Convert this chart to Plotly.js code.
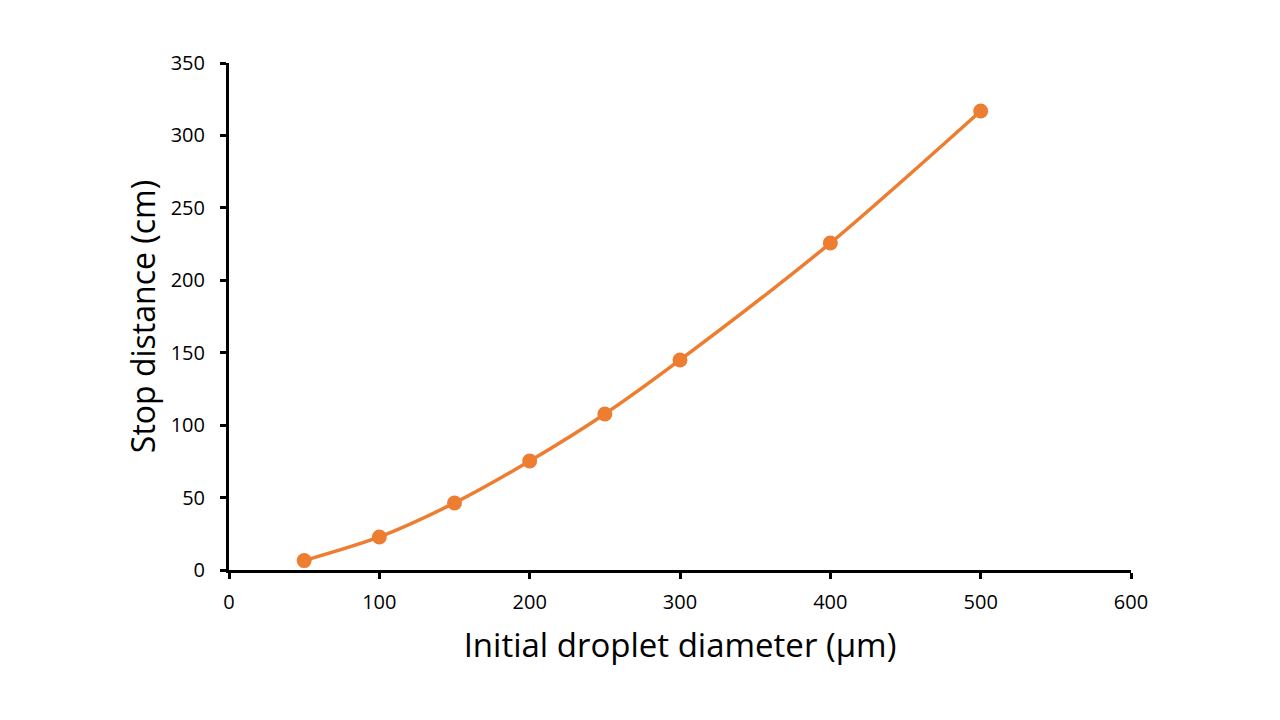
<!DOCTYPE html>
<html>
<head>
<meta charset="utf-8">
<script src="https://cdn.plot.ly/plotly-3.0.1.min.js"></script>
<style>
    html, body { margin: 0; padding: 0; background: #fff; }
    #chart { width: 1280px; height: 720px; }
</style>
</head>
<body>
<div id="chart"></div>
<script>
// droplet diameter (um) vs stop distance (cm)
const diameters = [50, 100, 150, 200, 250, 300, 400, 500];
const stopDistances = [6.5, 22.8, 46.3, 75.2, 107.7, 145, 225.7, 316.9];

const xTicks = [0, 100, 200, 300, 400, 500, 600];
const yTicks = [0, 50, 100, 150, 200, 250, 300, 350];

const orange = '#ED7D31';
const fontFamily = '"Open Sans", "DejaVu Sans", sans-serif';

let data = [{
    x: diameters,
    y: stopDistances,
    type: 'scatter',
    mode: 'lines+markers',
    line: { color: orange, width: 3.5, shape: 'spline', smoothing: 0.8 },
    marker: { color: orange, size: 15 },
    cliponaxis: false
}];

let axisStyle = {
    showgrid: false,
    zeroline: false,
    showline: true,
    linecolor: '#000',
    linewidth: 3,
    ticks: 'outside',
    ticklen: 6,
    tickwidth: 3,
    tickcolor: '#000',
    ticklabelstandoff: 6,
    tickfont: { family: fontFamily, size: 20, color: '#000' },
    fixedrange: true
};

let layout = {
    width: 1280,
    height: 720,
    margin: { l: 229, r: 149, t: 63, b: 150 },
    paper_bgcolor: '#fff',
    plot_bgcolor: '#fff',
    showlegend: false,
    xaxis: Object.assign({}, axisStyle, {
        range: [0, 600],
        tickvals: xTicks,
        ticktext: xTicks.map(String),
        title: { text: 'Initial droplet diameter (µm)', font: { family: fontFamily, size: 33, color: '#000' }, standoff: 20 }
    }),
    yaxis: Object.assign({}, axisStyle, {
        range: [0, 350],
        tickvals: yTicks,
        ticktext: yTicks.map(String),
        ticklabelstandoff: 11,
        title: { text: 'Stop distance (cm)', font: { family: fontFamily, size: 32, color: '#000' }, standoff: 6 }
    })
};

Plotly.newPlot('chart', data, layout, { displayModeBar: false, staticPlot: true });
</script>
</body>
</html>
